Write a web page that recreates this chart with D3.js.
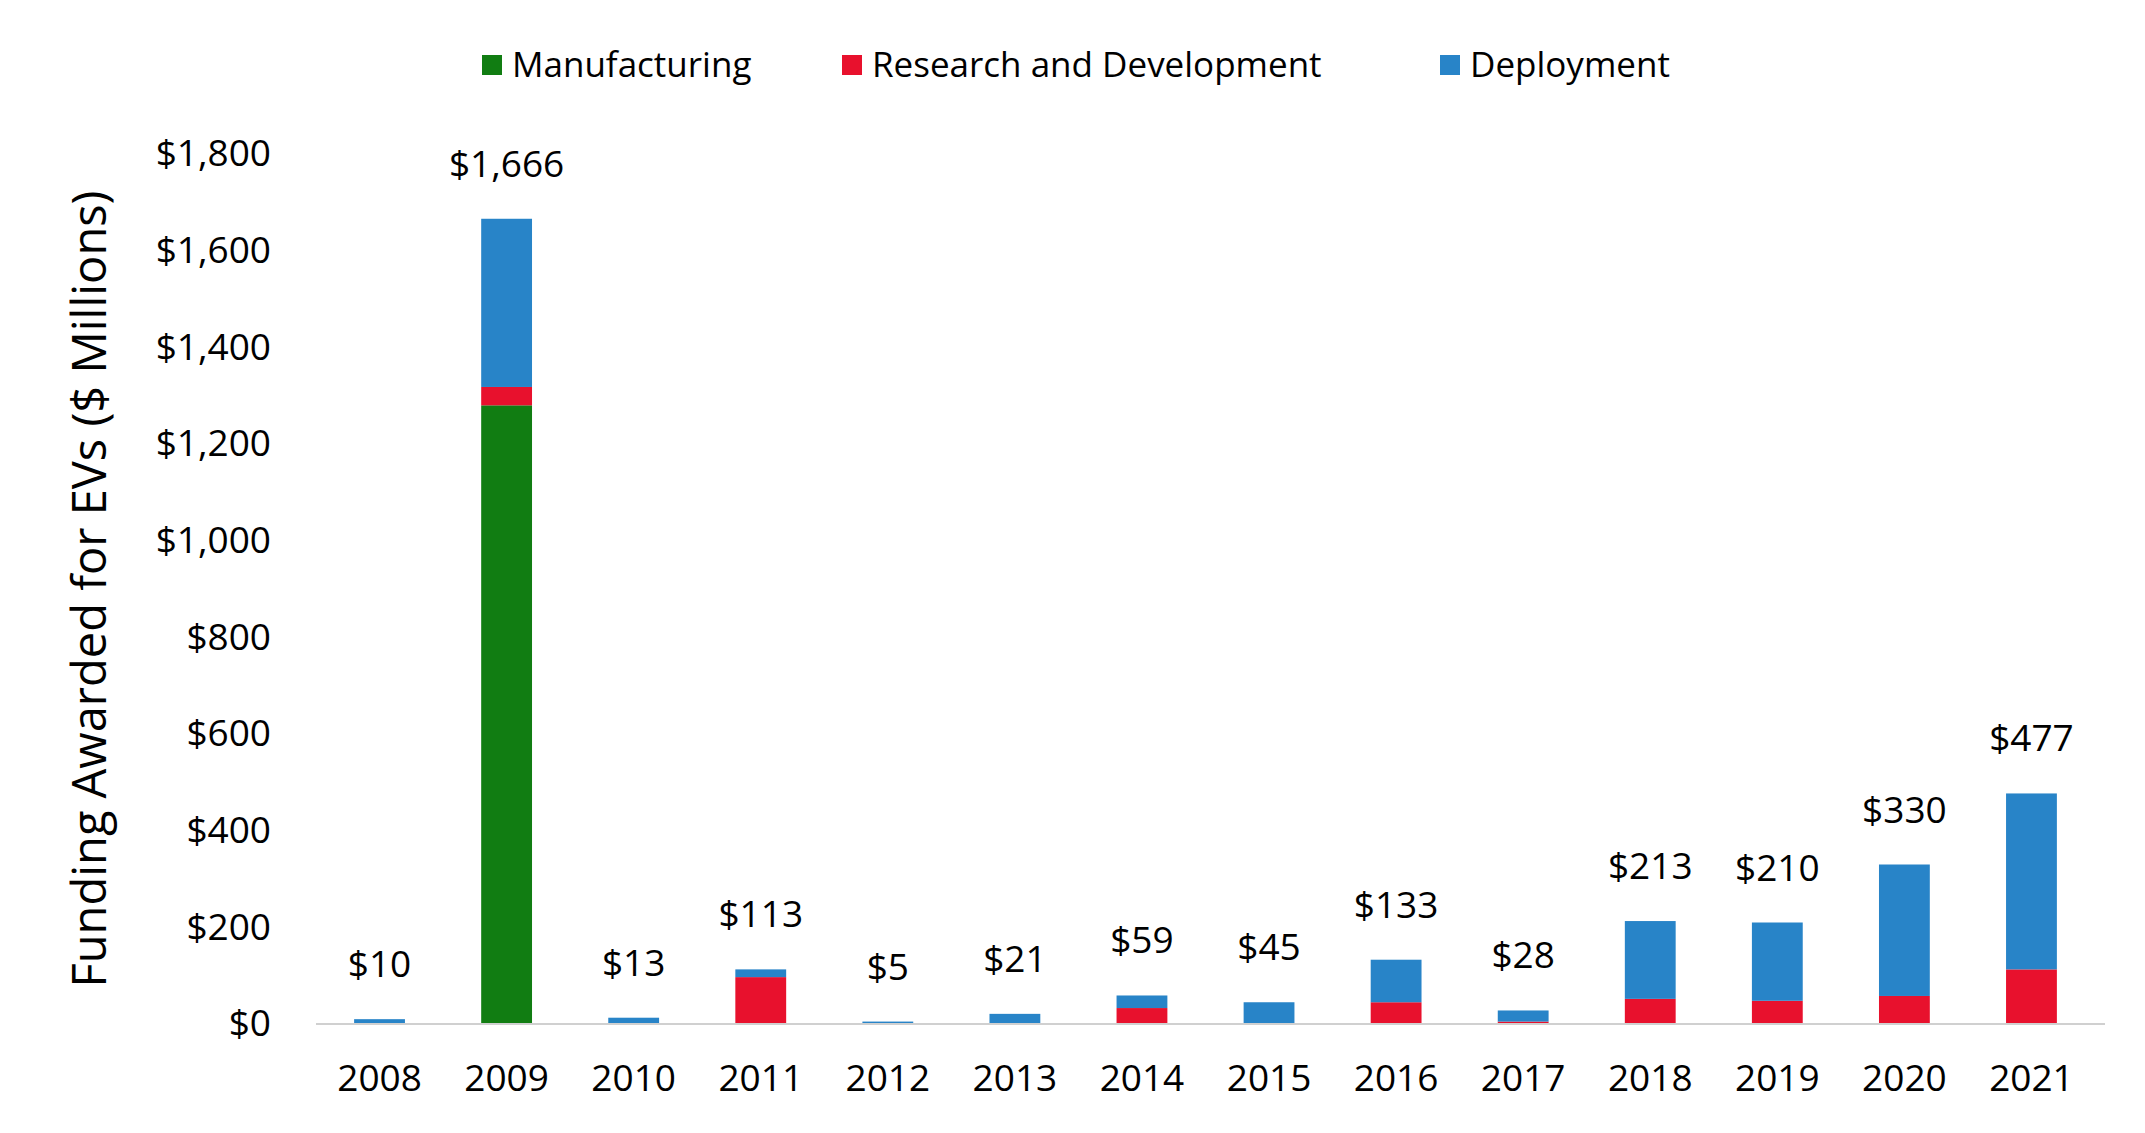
<!DOCTYPE html>
<html><head><meta charset="utf-8">
<script src="https://cdn.jsdelivr.net/npm/d3@7"></script>
<style>body{margin:0;background:#fff}text{font-family:"Open Sans",Lato,sans-serif}</style>
</head><body><div id="chart"></div>
<script>
const years = ['2008','2009','2010','2011','2012','2013','2014','2015','2016','2017','2018','2019','2020','2021'];
const manufacturing = [0,1280,0,0,0,0,0,0,0,0,0,0,0,0];
const research = [0,38,0,97,0,0,33,0,45,5,52,48,58,113];
const deployment = [10,348,13,16,5,21,26,45,88,23,161,162,272,364];
const totals = [10,1666,13,113,5,21,59,45,133,28,213,210,330,477];
const yTicks = [0,200,400,600,800,1000,1200,1400,1600,1800];
const seriesNames = ['Manufacturing','Research and Development','Deployment'];
const colors = ['#117d12','#e8112d','#2884c8'];

const w = 2145, h = 1133;
const m = {left: 316, right: 50, top: 154, bottom: 109};

const svg = d3.select('#chart').append('svg').attr('width', w).attr('height', h);

const rows = years.map((y, i) => ({year: y, Manufacturing: manufacturing[i],
  'Research and Development': research[i], Deployment: deployment[i]}));
const stacked = d3.stack().keys(seriesNames)(rows);

const x = d3.scaleBand().domain(years).range([m.left, w - m.right]).paddingInner(0.6).paddingOuter(0.3);
const y = d3.scaleLinear().domain([0, 1800]).range([h - m.bottom, m.top]);

svg.selectAll('g.series').data(stacked).join('g')
  .attr('fill', (d, i) => colors[i])
  .selectAll('rect').data(d => d).join('rect')
  .attr('x', d => x(d.data.year))
  .attr('width', x.bandwidth())
  .attr('y', d => y(d[1]))
  .attr('height', d => y(d[0]) - y(d[1]));

// baseline
svg.append('line').attr('x1', m.left).attr('x2', w - m.right + 10)
  .attr('y1', y(0)).attr('y2', y(0)).attr('stroke', '#d0d0d0').attr('stroke-width', 2);

const yAxis = svg.append('g').attr('transform', `translate(${m.left - 42},0)`)
  .call(d3.axisLeft(y).tickValues(yTicks).tickSize(0).tickFormat(d => '$' + d3.format(',')(d)));
yAxis.select('.domain').remove();
yAxis.selectAll('text').attr('font-size', 37).attr('fill', '#000');

const xAxis = svg.append('g').attr('transform', `translate(0,${y(0)})`)
  .call(d3.axisBottom(x).tickSize(0).tickPadding(56));
xAxis.select('.domain').remove();
xAxis.selectAll('text').attr('font-size', 37).attr('fill', '#000').attr('dy', '0.3em');

// totals
svg.selectAll('text.total').data(years).join('text')
  .attr('x', d => x(d) + x.bandwidth() / 2)
  .attr('y', (d, i) => y(totals[i]) - 42)
  .attr('text-anchor', 'middle').attr('font-size', 37)
  .text((d, i) => '$' + d3.format(',')(totals[i]));

svg.append('text')
  .attr('transform', `translate(106,${(m.top + h - m.bottom) / 2}) rotate(-90)`)
  .attr('text-anchor', 'middle').attr('font-size', 47)
  .text('Funding Awarded for EVs ($ Millions)');

// legend
const legendX = [482, 842, 1440];
const lg = svg.selectAll('g.legend').data(seriesNames).join('g')
  .attr('transform', (d, i) => `translate(${legendX[i]},65)`);
lg.append('rect').attr('width', 20).attr('height', 20).attr('y', -10).attr('fill', (d, i) => colors[i]);
lg.append('text').attr('x', 30).attr('dy', '0.35em').attr('font-size', 35).text(d => d);
</script></body></html>
